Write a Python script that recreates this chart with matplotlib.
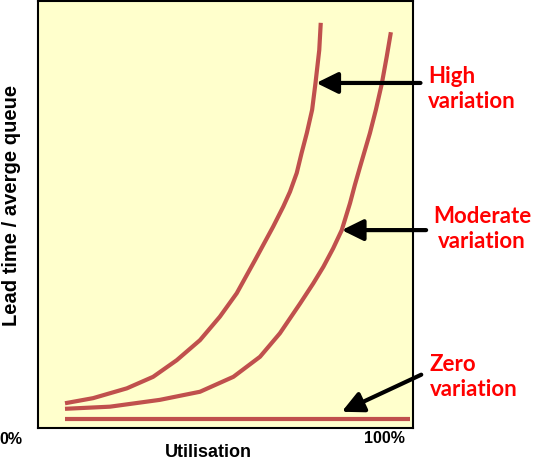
import matplotlib
matplotlib.use("Agg")
from matplotlib import pyplot as plt

# utilisation (% of axis width) and lead time (% of axis height)
high_x = [7.2, 14.7, 23.7, 30.7, 37.0, 43.2, 48.5, 53.0, 57.9, 62.7, 65.4, 67.2,
          69.0, 70.3, 71.7, 73.1, 74.0, 75.0, 75.4]
high_y = [5.8, 7.0, 9.3, 12.0, 15.9, 20.6, 26.1, 31.6, 39.4, 47.2, 51.9, 55.4,
          59.8, 64.5, 69.2, 74.6, 80.9, 88.6, 95.0]

moderate_x = [7.2, 19.2, 32.5, 43.2, 52.1, 59.2, 64.5, 69.9, 73.4, 76.1, 78.7, 81.0,
              83.2, 84.5, 85.9, 87.2, 88.5, 90.1, 91.7, 93.0, 94.1]
moderate_y = [4.5, 5.0, 6.6, 8.5, 12.0, 16.7, 22.2, 29.2, 33.9, 37.8, 42.1, 46.4,
              52.7, 57.0, 61.3, 65.2, 69.1, 74.6, 80.8, 87.1, 92.8]

zero_x = [7.2, 99.2]
zero_y = [2.0, 2.0]

curve_color = "#C0504D"
label_red = "#FF0000"

fig = plt.figure(figsize=(5.35, 4.61), dpi=100)
W, H = 535.0, 461.0
ax = fig.add_axes([38 / W, 1 - 428 / H, 375 / W, 426.5 / H])
ax.set_facecolor("#FFFFCC")
ax.set_xlim(0, 100)
ax.set_ylim(0, 100)
ax.set_xticks([])
ax.set_yticks([])
for s in ax.spines.values():
    s.set_linewidth(1.5)
    s.set_color("black")

for xs, ys in [(high_x, high_y), (moderate_x, moderate_y), (zero_x, zero_y)]:
    ax.plot(xs, ys, color=curve_color, lw=3, solid_capstyle="butt", solid_joinstyle="round")

arrow = dict(arrowstyle="-|>,head_length=0.65,head_width=0.32", mutation_scale=20,
             color="black", lw=3, shrinkA=0, shrinkB=0)
# (tip, tail) of each pointer
arrows = [((74.2, 80.9), (102.0, 80.9)),
          ((81.0, 46.4), (103.5, 46.4)),
          ((81.0, 3.8), (102.2, 12.5))]
for tip, tail in arrows:
    ax.annotate("", xy=tip, xytext=tail, arrowprops=arrow, annotation_clip=False)

lab_font = ["Lato", "DejaVu Sans"]
fig.text(428 / W, 1 - 89 / H, "High\nvariation", color=label_red, fontsize=16,
         fontweight="bold", family=lab_font, ha="left", va="center", linespacing=1.2)
fig.text(482 / W, 1 - 229 / H, "Moderate\nvariation", color=label_red, fontsize=16,
         fontweight="bold", family=lab_font, ha="center", va="center", linespacing=1.2)
fig.text(430 / W, 1 - 377 / H, "Zero\nvariation", color=label_red, fontsize=16,
         fontweight="bold", family=lab_font, ha="left", va="center", linespacing=1.2)

ax_font = ["Liberation Sans", "DejaVu Sans"]
fig.text(12 / W, 1 - 205 / H, "Lead time / averge queue", rotation=90, fontsize=14.5,
         fontweight="bold", family=ax_font, ha="center", va="center")
fig.text(11 / W, 1 - 439 / H, "0%", fontsize=11.5, fontweight="bold", family=ax_font,
         ha="center", va="center")
fig.text(384 / W, 1 - 438 / H, "100%", fontsize=11.5, fontweight="bold", family=ax_font,
         ha="center", va="center")
fig.text(208 / W, 1 - 452 / H, "Utilisation", fontsize=13, fontweight="bold",
         family=ax_font, ha="center", va="center")

fig.savefig("out.png", dpi=100)
